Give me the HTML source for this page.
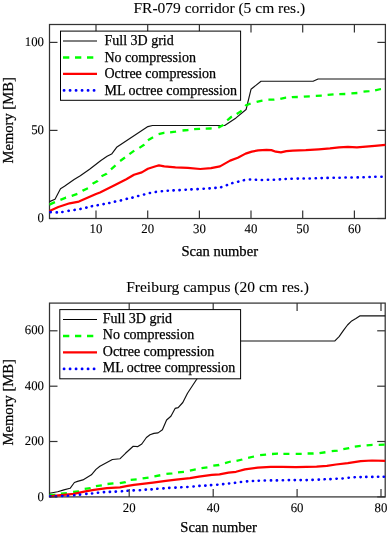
<!DOCTYPE html>
<html><head><meta charset="utf-8"><style>
html,body{margin:0;padding:0;background:#fff;}
svg{display:block;}
text{font-family:'Liberation Serif','Times New Roman',serif;fill:#000;stroke:#000;stroke-width:0.25px;}
.ti{font-size:15.5px;stroke-width:0.1px;}
.al{font-size:14.6px;}
.lg{font-size:14px;}
.tl{font-size:12.8px;stroke-width:0.1px;text-rendering:geometricPrecision;}
.tk{stroke:#333;stroke-width:1.2;}
.fr{fill:none;stroke:#333;stroke-width:1.25;}
</style></head><body>
<svg width="388" height="535" viewBox="0 0 388 535">
<text x="219.3" y="12.9" class="ti" text-anchor="middle">FR-079 corridor (5 cm res.)</text>
<rect x="49.5" y="24.5" width="335.9" height="194.0" fill="none" class="fr"/>
<g fill="none" stroke-linejoin="round">
<polyline points="49.5,201.6 55.0,199.3 60.5,188.7 64.5,186.3 74.1,179.5 80.3,175.7 89.6,169.2 100.9,160.5 107.1,156.3 111.6,154.1 117.0,146.9 147.9,126.6 152.4,125.5 224.7,125.5 236.0,117.9 246.1,109.5 251.0,89.3 261.0,81.2 313.1,81.2 318.1,79.0 385.4,79.0" stroke="#111" stroke-width="1.15"/>
<path d="M49.50,204.60 L53.20,202.90 L54.97,202.14 M60.40,199.82 L66.00,197.70 L66.01,197.70 M71.70,195.83 L71.80,195.80 L77.37,193.88 M82.50,190.78 L82.80,190.60 L87.95,188.29 M92.70,183.90 L93.00,183.60 L97.60,181.00 L97.79,180.78 M101.50,176.30 L101.50,176.30 L106.60,173.80 L106.82,173.57 M111.00,169.30 L111.00,169.30 L115.52,165.36 M120.10,161.00 L120.10,161.00 L125.01,157.55 M129.40,154.10 L129.40,154.10 L134.26,150.59 M139.40,147.90 L139.40,147.90 L144.10,144.80 L144.34,144.51 M147.90,140.20 L147.90,140.20 L153.10,137.21 M158.60,134.20 L158.60,134.20 L163.90,132.80 L164.42,132.76 M170.10,132.30 L170.10,132.30 L175.50,131.70 L176.06,131.60 M182.50,130.50 L182.50,130.50 L187.90,130.00 L188.47,129.93 M194.10,129.20 L194.10,129.20 L199.50,128.90 L200.09,128.87 M205.70,128.60 L205.70,128.60 L210.00,128.50 L211.70,128.44 M218.20,127.80 L218.20,127.80 L222.80,125.30 L223.31,124.73 M227.20,120.30 L227.20,120.30 L231.20,117.00 L231.91,116.60 M236.70,113.90 L236.70,113.90 L240.70,111.50 L241.57,110.48 M245.30,106.10 L245.90,105.40 L250.62,103.53 M256.60,101.83 L256.70,101.80 L262.20,100.70 L262.48,100.65 M268.40,99.70 L268.40,99.70 L274.10,99.70 L274.40,99.66 M280.30,98.90 L280.30,98.90 L285.90,97.60 L286.15,97.58 M291.80,97.12 L292.00,97.10 L297.80,97.00 M303.80,96.61 L303.90,96.60 L309.80,96.41 M315.80,95.80 L315.80,95.80 L321.80,95.60 M327.60,94.90 L327.60,94.90 L333.57,94.32 M339.30,94.10 L339.40,94.10 L345.30,94.01 M351.40,93.40 L351.40,93.40 L357.39,93.00 M363.50,91.70 L363.50,91.70 L369.20,91.10 L369.47,91.06 M375.10,90.30 L375.10,90.30 L380.90,89.00 L380.96,88.99" stroke="#00ff00" stroke-width="2.3"/>
<polyline points="49.5,211.0 58.3,207.0 69.6,203.3 78.9,201.6 88.0,197.5 96.0,194.0 100.0,192.5 115.5,184.7 126.3,179.3 134.0,174.7 141.8,172.4 147.9,168.8 155.7,166.2 158.9,165.4 164.3,166.4 175.5,167.3 187.8,167.8 200.2,169.0 211.0,168.1 220.0,166.4 230.1,160.6 237.8,157.8 245.6,153.6 251.8,151.6 258.2,150.4 266.5,149.9 271.4,150.1 275.8,151.7 280.9,152.4 286.4,151.1 292.9,150.6 305.8,150.1 318.7,149.3 330.0,148.4 339.0,147.3 347.9,146.9 356.9,147.3 365.9,146.6 374.8,145.8 385.4,144.8" stroke="#ff0000" stroke-width="2.2"/>
<path d="M50.48,212.09 L50.72,212.11 M56.68,212.40 L56.92,212.40 M62.28,212.02 L62.52,211.98 M68.48,210.82 L68.72,210.78 M74.48,209.92 L74.72,209.88 M80.38,208.92 L80.62,208.88 M86.28,207.63 L86.52,207.57 M91.78,206.23 L92.02,206.17 M97.58,205.22 L97.82,205.18 M103.48,204.12 L103.72,204.08 M109.18,203.03 L109.42,202.97 M114.88,201.63 L115.12,201.57 M120.78,200.43 L121.02,200.37 M126.68,198.83 L126.92,198.77 M132.38,197.63 L132.62,197.57 M138.08,196.03 L138.32,195.97 M143.98,194.53 L144.22,194.47 M149.78,193.03 L150.02,192.97 M155.68,191.92 L155.92,191.88 M161.78,191.21 L162.02,191.19 M167.68,190.71 L167.92,190.69 M173.48,190.41 L173.72,190.39 M179.48,190.11 L179.72,190.09 M185.58,189.71 L185.82,189.69 M191.38,189.41 L191.62,189.39 M197.48,189.11 L197.72,189.09 M203.58,188.71 L203.82,188.69 M209.48,188.41 L209.72,188.39 M215.38,187.91 L215.62,187.89 M221.08,187.23 L221.32,187.17 M226.78,185.14 L227.02,185.06 M232.18,183.14 L232.42,183.06 M238.08,181.73 L238.32,181.67 M243.78,180.22 L244.02,180.18 M249.88,179.50 L250.12,179.50 M255.78,179.79 L256.02,179.81 M261.78,180.00 L262.02,180.00 M267.88,179.70 L268.12,179.70 M273.78,179.70 L274.02,179.70 M279.78,179.41 L280.02,179.39 M285.58,179.01 L285.82,178.99 M291.48,178.80 L291.72,178.80 M297.68,178.60 L297.92,178.60 M303.58,178.50 L303.82,178.50 M309.58,178.50 L309.82,178.50 M315.68,178.30 L315.92,178.30 M321.58,178.10 L321.82,178.10 M327.48,177.90 L327.72,177.90 M333.58,177.70 L333.82,177.70 M339.48,177.70 L339.72,177.70 M345.48,177.50 L345.72,177.50 M351.48,177.50 L351.72,177.50 M357.58,177.40 L357.82,177.40 M363.48,177.20 L363.72,177.20 M369.48,177.00 L369.72,177.00 M375.28,176.80 L375.52,176.80 M381.38,176.80 L381.62,176.80" stroke="#0000ff" stroke-width="2.6" stroke-linecap="round"/>
</g>
<line x1="96.0" y1="218.5" x2="96.0" y2="210.5" class="tk"/>
<line x1="96.0" y1="24.5" x2="96.0" y2="32.5" class="tk"/>
<text transform="translate(96.0,233.3) scale(1,1.03)" class="tl" text-anchor="middle">10</text>
<line x1="147.7" y1="218.5" x2="147.7" y2="210.5" class="tk"/>
<line x1="147.7" y1="24.5" x2="147.7" y2="32.5" class="tk"/>
<text transform="translate(147.7,233.3) scale(1,1.03)" class="tl" text-anchor="middle">20</text>
<line x1="199.4" y1="218.5" x2="199.4" y2="210.5" class="tk"/>
<line x1="199.4" y1="24.5" x2="199.4" y2="32.5" class="tk"/>
<text transform="translate(199.4,233.3) scale(1,1.03)" class="tl" text-anchor="middle">30</text>
<line x1="251.0" y1="218.5" x2="251.0" y2="210.5" class="tk"/>
<line x1="251.0" y1="24.5" x2="251.0" y2="32.5" class="tk"/>
<text transform="translate(251.0,233.3) scale(1,1.03)" class="tl" text-anchor="middle">40</text>
<line x1="302.7" y1="218.5" x2="302.7" y2="210.5" class="tk"/>
<line x1="302.7" y1="24.5" x2="302.7" y2="32.5" class="tk"/>
<text transform="translate(302.7,233.3) scale(1,1.03)" class="tl" text-anchor="middle">50</text>
<line x1="354.4" y1="218.5" x2="354.4" y2="210.5" class="tk"/>
<line x1="354.4" y1="24.5" x2="354.4" y2="32.5" class="tk"/>
<text transform="translate(354.4,233.3) scale(1,1.03)" class="tl" text-anchor="middle">60</text>
<line x1="49.5" y1="218.5" x2="57.5" y2="218.5" class="tk"/>
<line x1="385.4" y1="218.5" x2="377.4" y2="218.5" class="tk"/>
<text transform="translate(44.0,222.1) scale(1,1.03)" class="tl" text-anchor="end">0</text>
<line x1="49.5" y1="130.4" x2="57.5" y2="130.4" class="tk"/>
<line x1="385.4" y1="130.4" x2="377.4" y2="130.4" class="tk"/>
<text transform="translate(44.0,134.0) scale(1,1.03)" class="tl" text-anchor="end">50</text>
<line x1="49.5" y1="42.4" x2="57.5" y2="42.4" class="tk"/>
<line x1="385.4" y1="42.4" x2="377.4" y2="42.4" class="tk"/>
<text transform="translate(44.0,46.0) scale(1,1.03)" class="tl" text-anchor="end">100</text>
<text x="219.7" y="255.5" class="al" text-anchor="middle">Scan number</text>
<text transform="translate(12.6,120.4) rotate(-90)" class="al" text-anchor="middle">Memory [MB]</text>
<rect x="60.5" y="31.1" width="180.1" height="69.2" fill="#fff" stroke="#000" stroke-width="1"/>
<line x1="63" y1="41.0" x2="97" y2="41.0" stroke="#000" stroke-width="1"/>
<text x="104.5" y="45.3" class="lg">Full 3D grid</text>
<line x1="63" y1="57.5" x2="97" y2="57.5" stroke="#00ff00" stroke-width="2.3" stroke-dasharray="6.3,5.7"/>
<text x="104.5" y="61.8" class="lg">No compression</text>
<line x1="63" y1="73.9" x2="97" y2="73.9" stroke="#ff0000" stroke-width="2.2"/>
<text x="104.5" y="78.2" class="lg">Octree compression</text>
<line x1="63.95" y1="90.4" x2="97" y2="90.4" stroke="#0000ff" stroke-width="2.6" stroke-linecap="round" stroke-dasharray="0.25,5.75"/>
<text x="104.5" y="94.7" class="lg">ML octree compression</text>
<text x="217.5" y="292" class="ti" text-anchor="middle">Freiburg campus (20 cm res.)</text>
<rect x="49.5" y="303.1" width="335.7" height="193.79999999999995" fill="none" class="fr"/>
<g fill="none" stroke-linejoin="round">
<polyline points="49.5,493.3 57.7,491.8 63.9,489.9 70.1,488.3 74.4,482.5 77.5,481.4 82.9,479.9 91.4,474.8 96.0,469.4 99.9,466.3 105.0,463.5 112.4,459.5 120.1,458.7 125.5,453.3 133.2,446.3 137.9,446.6 141.8,444.0 146.4,437.5 150.0,434.8 153.9,433.4 158.1,432.9 162.4,429.8 166.6,420.0 170.9,416.2 175.1,408.4 178.2,407.6 182.8,402.5 187.5,393.2 192.1,386.3 196.7,379.3 205.0,366.0 215.0,350.0 225.0,341.0 334.9,340.9 339.1,336.6 343.3,330.7 347.5,325.0 351.7,320.9 355.9,318.6 360.1,315.8 385.2,315.8" stroke="#111" stroke-width="1.15"/>
<path d="M49.50,494.80 L55.00,494.60 L55.49,494.52 M60.90,493.62 L61.00,493.60 L66.89,493.23 M73.10,492.00 L73.10,492.00 L78.90,491.40 L79.06,491.33 M84.70,488.90 L84.70,488.90 L90.50,488.20 L90.65,488.15 M95.90,486.20 L95.90,486.20 L101.84,485.38 M107.50,484.00 L107.50,484.00 L113.47,483.45 M119.80,483.10 L119.80,483.10 L125.60,482.10 L125.71,482.05 M130.70,479.90 L130.70,479.90 L136.67,479.35 M142.60,478.40 L142.60,478.40 L148.54,477.56 M154.40,476.30 L154.40,476.30 L160.31,475.25 M166.40,473.90 L166.40,473.90 L172.20,473.30 L172.37,473.27 M178.00,472.40 L178.00,472.40 L183.97,471.85 M189.90,470.60 L189.90,470.60 L195.70,469.30 L195.76,469.29 M201.50,468.20 L201.50,468.20 L207.44,467.36 M213.30,465.70 L213.30,465.70 L219.20,465.00 L219.26,464.98 M225.00,463.10 L225.00,463.10 L230.78,461.50 M236.50,460.80 L236.50,460.80 L242.30,459.50 L242.35,459.48 M248.10,457.80 L248.10,457.80 L253.90,456.50 L253.95,456.49 M260.10,455.20 L260.10,455.20 L265.80,454.70 L266.08,454.67 M272.00,454.00 L272.00,454.00 L277.70,453.70 L277.99,453.71 M283.40,453.90 L283.40,453.90 L289.40,453.90 M295.70,453.80 L295.70,453.80 L301.70,453.80 M307.60,453.50 L307.60,453.50 L313.40,453.50 L313.60,453.49 M319.50,453.10 L319.50,453.10 L325.44,452.24 M331.70,451.20 L331.70,451.20 L337.50,450.60 L337.66,450.56 M343.30,449.10 L343.30,449.10 L349.10,448.20 L349.23,448.16 M354.80,446.59 L360.60,445.80 L360.75,445.79 M366.60,445.29 L372.50,444.80 L372.58,444.80 M378.70,444.80 L378.70,444.80 L384.70,444.71" stroke="#00ff00" stroke-width="2.3"/>
<polyline points="49.5,496.3 60.9,495.1 73.8,493.8 85.4,491.3 94.0,489.9 106.9,488.1 120.0,487.3 127.7,485.9 133.9,484.8 142.4,483.9 152.9,482.6 165.8,480.8 176.1,479.7 190.0,478.2 198.9,476.6 211.8,474.8 219.5,474.4 228.5,472.7 236.0,471.8 244.9,469.4 257.8,467.6 270.7,466.8 282.0,466.9 296.0,467.1 306.3,466.8 316.6,466.6 326.9,465.8 336.0,464.5 347.8,463.1 360.7,461.1 372.0,460.5 385.2,460.8" stroke="#ff0000" stroke-width="2.2"/>
<path d="M50.17,496.30 L50.42,496.30 M55.78,496.30 L56.02,496.30 M62.18,496.01 L62.42,495.99 M67.88,495.81 L68.12,495.79 M74.18,495.31 L74.42,495.29 M79.88,494.61 L80.12,494.59 M86.28,493.91 L86.52,493.89 M91.98,493.51 L92.22,493.49 M97.88,492.71 L98.12,492.69 M103.88,492.11 L104.12,492.09 M109.78,491.91 L110.02,491.89 M115.68,491.61 L115.92,491.59 M121.88,491.31 L122.12,491.29 M127.58,490.81 L127.82,490.79 M133.58,490.41 L133.82,490.39 M139.78,490.21 L140.02,490.19 M145.68,489.61 L145.92,489.59 M151.48,489.41 L151.72,489.39 M157.28,488.81 L157.52,488.79 M163.38,488.41 L163.62,488.39 M169.18,487.91 L169.42,487.89 M175.38,487.61 L175.62,487.59 M181.28,487.31 L181.52,487.29 M187.28,487.01 L187.52,486.99 M193.48,486.51 L193.72,486.49 M199.38,485.91 L199.62,485.89 M205.28,485.61 L205.52,485.59 M210.98,485.11 L211.22,485.09 M217.18,484.71 L217.42,484.69 M223.08,484.11 L223.32,484.09 M228.98,483.51 L229.22,483.49 M234.88,482.82 L235.12,482.78 M240.88,482.01 L241.12,481.99 M246.98,481.41 L247.22,481.39 M252.88,481.01 L253.12,480.99 M258.68,480.71 L258.92,480.69 M264.68,480.50 L264.92,480.50 M270.88,480.40 L271.12,480.40 M276.78,480.40 L277.02,480.40 M282.78,480.20 L283.02,480.20 M288.78,480.10 L289.02,480.10 M294.68,480.10 L294.93,480.10 M300.57,480.10 L300.82,480.10 M306.58,480.10 L306.82,480.10 M312.48,479.91 L312.72,479.89 M318.68,479.61 L318.92,479.59 M324.58,479.31 L324.82,479.29 M330.38,479.11 L330.62,479.09 M336.48,478.71 L336.72,478.69 M342.48,478.51 L342.72,478.49 M348.58,477.71 L348.82,477.69 M354.58,477.21 L354.82,477.19 M360.48,477.10 L360.72,477.10 M366.18,476.90 L366.42,476.90 M372.18,476.90 L372.42,476.90 M377.98,476.80 L378.22,476.80 M383.68,476.80 L383.93,476.80" stroke="#0000ff" stroke-width="2.6" stroke-linecap="round"/>
</g>
<line x1="129.2" y1="496.9" x2="129.2" y2="488.9" class="tk"/>
<line x1="129.2" y1="303.1" x2="129.2" y2="311.1" class="tk"/>
<text transform="translate(129.2,511.7) scale(1,1.03)" class="tl" text-anchor="middle">20</text>
<line x1="213.2" y1="496.9" x2="213.2" y2="488.9" class="tk"/>
<line x1="213.2" y1="303.1" x2="213.2" y2="311.1" class="tk"/>
<text transform="translate(213.2,511.7) scale(1,1.03)" class="tl" text-anchor="middle">40</text>
<line x1="297.1" y1="496.9" x2="297.1" y2="488.9" class="tk"/>
<line x1="297.1" y1="303.1" x2="297.1" y2="311.1" class="tk"/>
<text transform="translate(297.1,511.7) scale(1,1.03)" class="tl" text-anchor="middle">60</text>
<line x1="381.0" y1="496.9" x2="381.0" y2="488.9" class="tk"/>
<line x1="381.0" y1="303.1" x2="381.0" y2="311.1" class="tk"/>
<text transform="translate(381.0,511.7) scale(1,1.03)" class="tl" text-anchor="middle">80</text>
<line x1="49.5" y1="496.9" x2="57.5" y2="496.9" class="tk"/>
<line x1="385.2" y1="496.9" x2="377.2" y2="496.9" class="tk"/>
<text transform="translate(44.0,500.5) scale(1,1.03)" class="tl" text-anchor="end">0</text>
<line x1="49.5" y1="441.5" x2="57.5" y2="441.5" class="tk"/>
<line x1="385.2" y1="441.5" x2="377.2" y2="441.5" class="tk"/>
<text transform="translate(44.0,445.1) scale(1,1.03)" class="tl" text-anchor="end">200</text>
<line x1="49.5" y1="386.2" x2="57.5" y2="386.2" class="tk"/>
<line x1="385.2" y1="386.2" x2="377.2" y2="386.2" class="tk"/>
<text transform="translate(44.0,389.8) scale(1,1.03)" class="tl" text-anchor="end">400</text>
<line x1="49.5" y1="330.8" x2="57.5" y2="330.8" class="tk"/>
<line x1="385.2" y1="330.8" x2="377.2" y2="330.8" class="tk"/>
<text transform="translate(44.0,334.4) scale(1,1.03)" class="tl" text-anchor="end">600</text>
<text x="218.6" y="532.4" class="al" text-anchor="middle">Scan number</text>
<text transform="translate(12.6,402.3) rotate(-90)" class="al" text-anchor="middle">Memory [MB]</text>
<rect x="59.8" y="309.6" width="180.8" height="69.2" fill="#fff" stroke="#000" stroke-width="1"/>
<line x1="63" y1="319.5" x2="97" y2="319.5" stroke="#000" stroke-width="1"/>
<text x="102.8" y="322.8" class="lg">Full 3D grid</text>
<line x1="63" y1="336.0" x2="97" y2="336.0" stroke="#00ff00" stroke-width="2.3" stroke-dasharray="6.3,5.7"/>
<text x="102.8" y="339.3" class="lg">No compression</text>
<line x1="63" y1="352.4" x2="97" y2="352.4" stroke="#ff0000" stroke-width="2.2"/>
<text x="102.8" y="355.7" class="lg">Octree compression</text>
<line x1="63.95" y1="368.9" x2="97" y2="368.9" stroke="#0000ff" stroke-width="2.6" stroke-linecap="round" stroke-dasharray="0.25,5.75"/>
<text x="102.8" y="372.2" class="lg">ML octree compression</text>
</svg>
</body></html>
